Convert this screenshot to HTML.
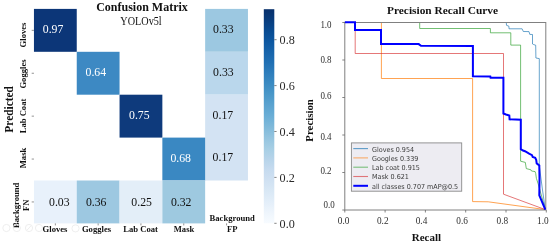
<!DOCTYPE html>
<html><head><meta charset="utf-8"><title>Confusion Matrix and PR Curve</title>
<style>
html,body{margin:0;padding:0;background:#fff;width:550px;height:245px;overflow:hidden}
svg{display:block}
.s{font-family:"Liberation Serif",serif}
.b{font-weight:bold}
.l{font-family:"DejaVu Sans","Liberation Sans",sans-serif;font-size:6.9px;fill:#3a3a3a}
</style></head><body>
<svg width="550" height="245" viewBox="0 0 550 245">
<defs>
<linearGradient id="cb" x1="0" y1="1" x2="0" y2="0">
<stop offset="0.00" stop-color="#f7fbff"/>
<stop offset="0.05" stop-color="#eef5fc"/>
<stop offset="0.10" stop-color="#e3eef9"/>
<stop offset="0.15" stop-color="#d9e8f5"/>
<stop offset="0.20" stop-color="#d0e1f2"/>
<stop offset="0.25" stop-color="#c6dbef"/>
<stop offset="0.30" stop-color="#b7d4ea"/>
<stop offset="0.35" stop-color="#a6cee4"/>
<stop offset="0.40" stop-color="#94c4df"/>
<stop offset="0.45" stop-color="#7fb9da"/>
<stop offset="0.50" stop-color="#6aaed6"/>
<stop offset="0.55" stop-color="#5ba3d0"/>
<stop offset="0.60" stop-color="#4a98c9"/>
<stop offset="0.65" stop-color="#3b8bc2"/>
<stop offset="0.70" stop-color="#2e7ebc"/>
<stop offset="0.75" stop-color="#2070b4"/>
<stop offset="0.80" stop-color="#1764ab"/>
<stop offset="0.85" stop-color="#0d57a1"/>
<stop offset="0.90" stop-color="#084a91"/>
<stop offset="0.95" stop-color="#083c7d"/>
<stop offset="1.00" stop-color="#08306b"/>
</linearGradient>
</defs>
<rect width="550" height="245" fill="#fff"/>

<!-- ===== Confusion matrix cells ===== -->
<g>
<rect x="33.95" y="8.90" width="42.80" height="42.90" fill="#0c3678"/>
<rect x="205.15" y="8.90" width="42.80" height="42.90" fill="#9cc8e1"/>
<rect x="76.75" y="51.80" width="42.80" height="42.90" fill="#3d89c3"/>
<rect x="205.15" y="51.80" width="42.80" height="42.90" fill="#bad7ec"/>
<rect x="119.55" y="94.70" width="42.80" height="42.90" fill="#0e3a7c"/>
<rect x="205.15" y="94.70" width="42.80" height="85.80" fill="#d3e3f3"/>
<rect x="162.35" y="137.60" width="42.80" height="42.90" fill="#3a88c2"/>
<rect x="33.95" y="180.50" width="42.80" height="42.90" fill="#e8f1fb"/>
<rect x="76.75" y="180.50" width="42.80" height="42.90" fill="#9dc8e1"/>
<rect x="119.55" y="180.50" width="42.80" height="42.90" fill="#e3eef8"/>
<rect x="162.35" y="180.50" width="42.80" height="42.90" fill="#9ec9e0"/>
</g>

<!-- cell values -->
<g class="s" font-size="13.2" text-anchor="middle">
<text x="53.05" y="33.1" fill="#fff" textLength="20.6" lengthAdjust="spacingAndGlyphs">0.97</text>
<text x="223.3" y="33.1" fill="#111" textLength="20.6" lengthAdjust="spacingAndGlyphs">0.33</text>
<text x="95.8" y="76.0" fill="#fff" textLength="20.6" lengthAdjust="spacingAndGlyphs">0.64</text>
<text x="223.35" y="76.0" fill="#111" textLength="20.6" lengthAdjust="spacingAndGlyphs">0.33</text>
<text x="139.3" y="119.4" fill="#fff" textLength="20.6" lengthAdjust="spacingAndGlyphs">0.75</text>
<text x="222.9" y="119.4" fill="#111" textLength="20.6" lengthAdjust="spacingAndGlyphs">0.17</text>
<text x="180.7" y="161.8" fill="#fff" textLength="20.6" lengthAdjust="spacingAndGlyphs">0.68</text>
<text x="222.9" y="161.2" fill="#111" textLength="20.6" lengthAdjust="spacingAndGlyphs">0.17</text>
<text x="59.3" y="205.9" fill="#111" textLength="20.6" lengthAdjust="spacingAndGlyphs">0.03</text>
<text x="96.2" y="206.0" fill="#111" textLength="20.6" lengthAdjust="spacingAndGlyphs">0.36</text>
<text x="141.65" y="206.0" fill="#111" textLength="20.6" lengthAdjust="spacingAndGlyphs">0.25</text>
<text x="181.2" y="205.9" fill="#111" textLength="20.6" lengthAdjust="spacingAndGlyphs">0.32</text>
</g>

<!-- titles -->
<text class="s b" x="142" y="11" font-size="12" text-anchor="middle" fill="#111">Confusion Matrix</text>
<text class="s" x="141" y="25.2" font-size="11.5" text-anchor="middle" fill="#111" textLength="41.3" lengthAdjust="spacingAndGlyphs">YOLOv5l</text>

<!-- y tick labels (rotated) -->
<g class="s b" font-size="8.6" text-anchor="middle" fill="#111">
<text transform="translate(26,35) rotate(-90)">Gloves</text>
<text transform="translate(26,74) rotate(-90)">Goggles</text>
<text transform="translate(26,116) rotate(-90)">Lab Coat</text>
<text transform="translate(26,158) rotate(-90)">Mask</text>
<text transform="translate(19,205.3) rotate(-90)">Background</text>
<text transform="translate(29.2,205.2) rotate(-90)">FN</text>
</g>
<text class="s b" transform="translate(12.8,109.4) rotate(-90)" font-size="11.8" text-anchor="middle" fill="#111" textLength="46.5" lengthAdjust="spacingAndGlyphs">Predicted</text>

<!-- x tick labels -->
<g class="s b" font-size="8.6" text-anchor="middle" fill="#111">
<text x="55" y="231.9">Gloves</text>
<text x="96.5" y="231.9">Goggles</text>
<text x="140.6" y="231.9">Lab Coat</text>
<text x="184" y="231.9">Mask</text>
<text x="232.2" y="221.3">Background</text>
<text x="232.3" y="231.5">FP</text>
</g>

<!-- small ticks -->
<g stroke="#777" stroke-width="0.8">
<line x1="31.7" y1="30.35" x2="33.95" y2="30.35"/>
<line x1="31.7" y1="73.25" x2="33.95" y2="73.25"/>
<line x1="31.7" y1="116.15" x2="33.95" y2="116.15"/>
<line x1="31.7" y1="159.05" x2="33.95" y2="159.05"/>
<line x1="31.7" y1="201.95" x2="33.95" y2="201.95"/>
<line x1="55.35" y1="223.4" x2="55.35" y2="225.4"/>
<line x1="98.15" y1="223.4" x2="98.15" y2="225.4"/>
<line x1="140.95" y1="223.4" x2="140.95" y2="225.4"/>
<line x1="183.75" y1="223.4" x2="183.75" y2="225.4"/>
<line x1="226.55" y1="223.4" x2="226.55" y2="225.4"/>
</g>

<!-- colorbar -->
<rect x="263.8" y="9.2" width="10.5" height="214.1" fill="url(#cb)"/>
<g stroke="#666" stroke-width="0.8">
<line x1="274.3" y1="223.3" x2="276.6" y2="223.3"/>
<line x1="274.3" y1="177.4" x2="276.6" y2="177.4"/>
<line x1="274.3" y1="131.5" x2="276.6" y2="131.5"/>
<line x1="274.3" y1="85.6" x2="276.6" y2="85.6"/>
<line x1="274.3" y1="39.7" x2="276.6" y2="39.7"/>
</g>
<g class="s" font-size="12.4" fill="#2a2a2a">
<text x="279.6" y="227.5" textLength="15.2" lengthAdjust="spacingAndGlyphs">0.0</text>
<text x="279.6" y="181.6" textLength="15.2" lengthAdjust="spacingAndGlyphs">0.2</text>
<text x="279.6" y="135.7" textLength="15.2" lengthAdjust="spacingAndGlyphs">0.4</text>
<text x="279.6" y="89.8" textLength="15.2" lengthAdjust="spacingAndGlyphs">0.6</text>
<text x="279.6" y="43.9" textLength="15.2" lengthAdjust="spacingAndGlyphs">0.8</text>
</g>

<!-- faint license marks -->
<g fill="none" stroke="#ececec" stroke-width="0.9">
<circle cx="6.4" cy="228" r="3.6"/>
<circle cx="16.8" cy="228" r="3.6"/>
<circle cx="29" cy="228" r="3.6"/>
<circle cx="39" cy="228" r="3.6"/>
<circle cx="75.5" cy="228.4" r="3.6"/>
<line x1="26.8" y1="230.4" x2="31.2" y2="225.6"/>
</g>

<!-- ===== PR curve ===== -->
<text class="s b" x="442.5" y="13.5" font-size="10.8" text-anchor="middle" fill="#111" textLength="111" lengthAdjust="spacingAndGlyphs">Precision Recall Curve</text>


<!-- curves -->
<g fill="none" stroke-linejoin="miter">
<!-- Goggles -->
<polyline stroke="#ff7f0e" stroke-opacity="0.8" stroke-width="0.9" points="344.8,22.5 381.4,22.5 381.4,78.5 472.6,78.5 472.6,201.6 488.2,201.8 545.3,209.6"/>
<!-- Mask -->
<polyline stroke="#d62728" stroke-opacity="0.7" stroke-width="0.9" points="344.8,22.5 355.2,22.5 355.2,53.5 503.5,53.5 503.5,194.2 545.3,209.6"/>
<!-- Lab coat -->
<polyline stroke="#2ca02c" stroke-opacity="0.75" stroke-width="0.9" points="344.8,22.5 419.7,22.5 419.7,28.5 490.4,28.5 490.4,32.8 510.8,32.8 510.8,45.1 520.6,45.1 520.6,161.2 525.3,162.4 526.3,168.6 530.9,169.8 531.5,171 535.1,171.6 535.7,173.5 536.4,178.4 538.2,183.9 539.4,188.2 545.3,209.6"/>
<!-- Gloves -->
<polyline stroke="#1f77b4" stroke-opacity="0.75" stroke-width="0.9" points="344.8,22.5 506.3,22.5 506.5,25.3 508.9,26.2 509,28.8 522.1,28.8 523.3,31.5 529,31.6 529.8,34.4 532.5,34.5 532.5,44 533.7,44.6 535.7,45.2 535.9,58 539.3,58.6 539.3,166 542.5,190 545.3,209.6"/>
</g>
<!-- axes frame -->
<rect x="344.8" y="22.5" width="201" height="187.5" fill="none" stroke="#808080" stroke-width="1"/>
<g fill="none">
<!-- all classes -->
<polyline stroke="#0000ff" stroke-width="2.0" points="344.8,22.3 355,22.3 355,30 381,30 381,44.1 418.7,44.1 421,45.8 472.9,46 472.9,76.3 490.3,76.5 490.6,77.8 503.4,77.8 503.4,113.5 506,114.5 509.3,115.5 509.6,119.3 520.8,119.8 520.8,149.2 523,150.5 525,151.2 529.1,153.7 532,155.1 532.7,157 535.2,157.8 536.2,159.8 536.7,163.4 539.3,165.4 539.4,172.2 539.5,178.4 539.3,195.4 545.3,209.6"/>
</g>


<!-- legend -->
<rect x="351.4" y="142.9" width="110.3" height="48.3" fill="#edecf2" stroke="#8a8a8a" stroke-width="0.9"/>
<g stroke-width="1.1">
<line x1="353.3" y1="148.6" x2="368" y2="148.6" stroke="#1f77b4" stroke-opacity="0.7"/>
<line x1="353.3" y1="157.9" x2="368" y2="157.9" stroke="#ff7f0e" stroke-opacity="0.6"/>
<line x1="353.3" y1="167.2" x2="368" y2="167.2" stroke="#2ca02c" stroke-opacity="0.6"/>
<line x1="353.3" y1="176.5" x2="368" y2="176.5" stroke="#d62728" stroke-opacity="0.6"/>
<line x1="353.3" y1="185.8" x2="368" y2="185.8" stroke="#0000ff" stroke-width="2"/>
</g>
<g class="l">
<text x="372" y="151.5" textLength="42.1" lengthAdjust="spacingAndGlyphs">Gloves 0.954</text>
<text x="372" y="160.8" textLength="46.3" lengthAdjust="spacingAndGlyphs">Googles 0.339</text>
<text x="372" y="170.1" textLength="47.9" lengthAdjust="spacingAndGlyphs">Lab coat 0.915</text>
<text x="372" y="179.4" textLength="36.9" lengthAdjust="spacingAndGlyphs">Mask 0.621</text>
<text x="372" y="188.5" textLength="86.2" lengthAdjust="spacingAndGlyphs">all classes 0.707 mAP@0.5</text>
</g>

<!-- axis ticks -->
<g stroke="#666" stroke-width="0.8">
<line x1="344.8" y1="210" x2="344.8" y2="212.5"/>
<line x1="385.1" y1="210" x2="385.1" y2="212.5"/>
<line x1="425.4" y1="210" x2="425.4" y2="212.5"/>
<line x1="465.7" y1="210" x2="465.7" y2="212.5"/>
<line x1="506" y1="210" x2="506" y2="212.5"/>
<line x1="546.3" y1="210" x2="546.3" y2="212.5"/>
<line x1="342.3" y1="22.5" x2="344.8" y2="22.5"/>
<line x1="342.3" y1="60" x2="344.8" y2="60"/>
<line x1="342.3" y1="97.5" x2="344.8" y2="97.5"/>
<line x1="342.3" y1="135" x2="344.8" y2="135"/>
<line x1="342.3" y1="172.5" x2="344.8" y2="172.5"/>
<line x1="342.3" y1="210" x2="344.8" y2="210"/>
</g>
<g class="s" font-size="9.4" fill="#2e2e2e" text-anchor="middle">
<text x="343.6" y="223.8" textLength="11.6" lengthAdjust="spacingAndGlyphs">0.0</text>
<text x="382.75" y="223.8" textLength="11.6" lengthAdjust="spacingAndGlyphs">0.2</text>
<text x="421.5" y="223.8" textLength="11.6" lengthAdjust="spacingAndGlyphs">0.4</text>
<text x="462.1" y="223.8" textLength="11.6" lengthAdjust="spacingAndGlyphs">0.6</text>
<text x="502.4" y="223.8" textLength="11.6" lengthAdjust="spacingAndGlyphs">0.8</text>
<text x="542.9" y="223.8" textLength="11.6" lengthAdjust="spacingAndGlyphs">1.0</text>
</g>
<g class="s" font-size="9.4" fill="#2e2e2e" text-anchor="end">
<text x="331.6" y="27.6" textLength="11.2" lengthAdjust="spacingAndGlyphs">1.0</text>
<text x="331.6" y="62.9" textLength="11.2" lengthAdjust="spacingAndGlyphs">0.8</text>
<text x="331.6" y="99.2" textLength="11.2" lengthAdjust="spacingAndGlyphs">0.6</text>
<text x="331.6" y="139.5" textLength="11.2" lengthAdjust="spacingAndGlyphs">0.4</text>
<text x="331.6" y="174.2" textLength="11.2" lengthAdjust="spacingAndGlyphs">0.2</text>
<text x="334.7" y="207.5" textLength="11.2" lengthAdjust="spacingAndGlyphs">0.0</text>
</g>
<text class="s b" x="426.4" y="240.7" font-size="11" text-anchor="middle" fill="#111">Recall</text>
<text class="s b" transform="translate(313.4,120.4) rotate(-90)" font-size="11" text-anchor="middle" fill="#111" textLength="42.5" lengthAdjust="spacingAndGlyphs">Precision</text>
</svg>
</body></html>
